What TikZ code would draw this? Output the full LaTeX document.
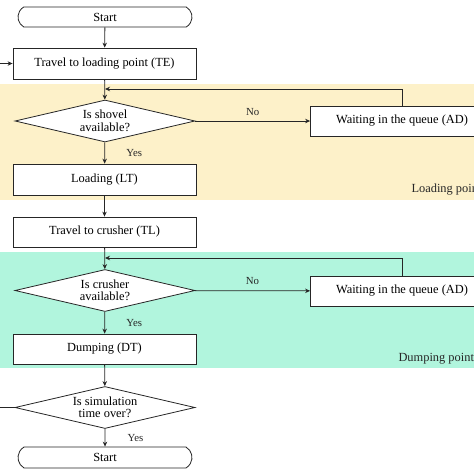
\documentclass[tikz,border=0pt]{standalone}
\usepackage{fontspec}
\setmainfont{Liberation Serif}
\usetikzlibrary{arrows.meta,positioning,shapes.geometric,shapes.misc}
\definecolor{ink}{HTML}{262626}
\definecolor{loadzone}{HTML}{FDF1C9}
\definecolor{dumpzone}{HTML}{B1F5DD}

\tikzset{
  txt/.style={font=\fontsize{12.4}{12.5}\selectfont},
  box/.style={txt,draw=ink,fill=white,line width=0.8pt,minimum width=183pt,minimum height=31pt,inner sep=0pt},
  ask/.style={txt,draw=ink,fill=white,line width=0.8pt,diamond,aspect=4.3,minimum width=180pt,minimum height=42pt,inner sep=0pt,align=center},
  term/.style={txt,draw=ink,fill=white,line width=0.8pt,rounded rectangle,rounded rectangle arc length=120,minimum width=174pt,minimum height=20pt,inner sep=0pt},
  flow/.style={ink,line width=0.8pt,-{Stealth[length=5pt,width=4.5pt]}},
  tag/.style={font=\fontsize{10.8}{11}\selectfont,text=ink}
}

\begin{document}
\begin{tikzpicture}[x=1pt,y=-1pt]
\clip (0,0) rectangle (474,474);
% zones
\fill[loadzone] (0,84) rectangle (474,200);
\fill[dumpzone] (0,252) rectangle (474,368);
\node[txt,anchor=west,text=ink] (lzone) at (408,190) {Loading point};
\node[txt,anchor=west,text=ink] (dzone) at (395,359) {Dumping point};

% steps
\node[term] (start) at (105,17) {Start};
\node[box] (te) at (104.5,63.5) {Travel to loading point (TE)};
\node[ask] (shovel) at (105,121) {Is shovel\\available?};
\node[box,minimum height=30pt] (waitl) at (402,121) {Waiting in the queue (AD)};
\node[box] (lt) at (104.5,179.5) {Loading (LT)};
\node[box,minimum height=30pt] (tl) at (104.5,232) {Travel to crusher (TL)};
\node[ask] (crusher) at (105,290.5) {Is crusher\\available?};
\node[box,minimum height=30pt] (waitd) at (402,291) {Waiting in the queue (AD)};
\node[box,minimum height=30pt] (dt) at (104.5,349) {Dumping (DT)};
\node[ask] (simover) at (105,407.5) {Is simulation\\time over?};
\node[term,minimum height=21pt] (stop) at (105,457.5) {Start};

\coordinate (back) at (-10,63.5);
\coordinate (away) at (-10,407.5);
\coordinate (ljoin) at (105,89);
\coordinate (djoin) at (105,258);

% links
\draw[flow] (start) -- (te);
\draw[flow] (back) -- (te);
\draw[flow] (te) -- (shovel);
\draw[flow] (waitl.north) |- (ljoin);
\draw[flow] (shovel) -- node[tag,above=2pt] {No} (waitl);
\draw[flow] (shovel) -- node[tag,right=18pt] {Yes} (lt);
\draw[flow] (lt) -- (tl);
\draw[flow] (tl) -- (crusher);
\draw[flow] (waitd.north) |- (djoin);
\draw[flow] (crusher) -- node[tag,above=2pt] {No} (waitd);
\draw[flow] (crusher) -- node[tag,right=18pt] {Yes} (dt);
\draw[flow] (dt) -- (simover);
\draw[flow] (simover) -- node[tag,right=19pt] {Yes} (stop);
\draw[ink,line width=0.8pt] (simover) -- (away);
\end{tikzpicture}
\end{document}
